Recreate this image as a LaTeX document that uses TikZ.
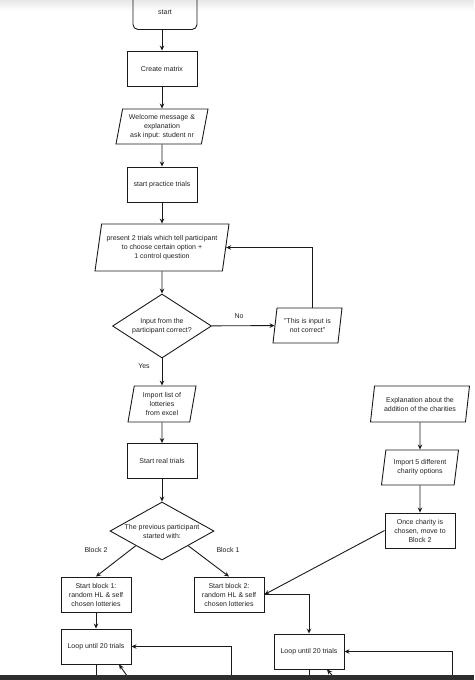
\documentclass[tikz,border=0pt]{standalone}
\usepackage{fontspec}
\setmainfont{Liberation Sans}
\usetikzlibrary{arrows.meta,positioning,shapes.geometric}

\definecolor{linecol}{HTML}{1A1A1A}
\definecolor{textcol}{HTML}{222222}
\definecolor{barcol}{HTML}{2E2E2E}

\tikzset{
  box/.style={draw=linecol, line width=0.9pt, minimum width=70pt, minimum height=35pt,
    align=center, inner sep=1pt, font=\fontsize{7}{9}\selectfont, text=textcol},
  startbox/.style={box, rounded corners=5pt, minimum width=64pt},
  iobox/.style={box, trapezium, trapezium left angle=76, trapezium right angle=104,
    trapezium stretches body},
  choice/.style={box, diamond, inner sep=0pt},
  flow/.style={draw=linecol, line width=0.9pt, -{Stealth[length=5pt,width=4.5pt]}},
  plain/.style={draw=linecol, line width=0.9pt},
  lbl/.style={font=\fontsize{7}{9}\selectfont, text=textcol},
}

\begin{document}
\begin{tikzpicture}[x=1pt,y=-1pt]
  \useasboundingbox (0,0) rectangle (474,680);
  \clip (0,0) rectangle (474,680);
  \shade[top color=gray!18, bottom color=white] (0,0) rectangle (474,11);

  % main column
  \node[startbox] (start) at (165,12) {start};
  \node[box] (matrix) at (162,68.5) {Create matrix};
  \node[iobox, minimum width=92pt] (welcome) at (162,126.5) {Welcome message \&\\explanation\\ask input: student nr};
  \node[box] (practice) at (162,184.5) {start practice trials};
  \node[iobox, minimum width=134pt, minimum height=47pt] (present) at (162,247.5) {present 2 trials which tell participant\\to choose certain option +\\1 control question};
  \node[choice, aspect=1.6, minimum width=99pt, minimum height=64pt] (correct) at (162,326) {Input from the\\participant correct?};
  \node[iobox, minimum width=69pt] (wrong) at (307.5,325.5) {"This is input is\\not correct"};
  \node[iobox, minimum width=68pt, minimum height=36pt] (lotteries) at (162,404) {Import list of\\lotteries\\from excel};
  \node[box] (real) at (162,461) {Start real trials};
  \node[choice, aspect=1.8, minimum width=104pt, minimum height=58pt] (previous) at (162,531) {The previous participant\\started with:};

  % blocks
  \node[box] (block1) at (96,594.5) {Start block 1:\\random HL \& self\\chosen lotteries};
  \node[box] (block2) at (229,594.5) {Start block 2:\\random HL \& self\\chosen lotteries};
  \node[box] (loop1) at (96,646.5) {Loop until 20 trials};
  \node[box] (loop2) at (309,651.5) {Loop until 20 trials};

  % charity column
  \node[iobox, minimum width=99pt, minimum height=36pt] (explain) at (420,404) {Explanation about the\\addition of the charities};
  \node[iobox, minimum width=77pt] (charity) at (420,467.5) {Import 5 different\\charity options};
  \node[box] (chosen) at (420,530.5) {Once charity is\\chosen, move to\\Block 2};

  % labels
  \node[lbl] (no) at (239,316) {No};
  \node[lbl] (yes) at (144,366) {Yes};
  \node[lbl] (b2) at (96,550) {Block 2};
  \node[lbl] (b1) at (228,550) {Block 1};

  % loose ends below the page
  \coordinate (back1) at (231,690);
  \coordinate (down1) at (96,690);
  \coordinate (up1) at (137,690);
  \coordinate (back2) at (452,690);
  \coordinate (down2) at (309,690);
  \coordinate (up2) at (345,690);

  \draw[flow] (start.south -| matrix.north) -- (matrix.north);
  \draw[flow] (matrix) -- (welcome);
  \draw[flow] (welcome) -- (practice);
  \draw[flow] (practice) -- (present);
  \draw[flow] (present) -- (correct);
  \draw[flow] (correct) -- (wrong);
  \draw[flow] ([xshift=4.5pt]wrong.north) |- (present.east);
  \draw[flow] (correct) -- (lotteries);
  \draw[flow] (lotteries) -- (real);
  \draw[flow] (real) -- (previous);
  \draw[flow] (previous.south west) -- (block1.north);
  \draw[flow] (previous.south east) -- (block2.north);
  \draw[flow] (block1) -- (loop1);
  \draw[flow] (back1) |- (loop1.east);
  \draw[plain] (loop1) -- (down1);
  \draw[flow] (up1) -- ([xshift=23pt]loop1.south);

  \draw[flow] (explain) -- (charity);
  \draw[flow] (charity) -- (chosen);
  \draw[flow] (chosen.west) -- (block2.east);
  \draw[flow] (block2.east) -| (loop2.north);
  \draw[flow] (back2) |- (loop2.east);
  \draw[plain] (loop2) -- (down2);
  \draw[flow] (up2) -- ([xshift=18pt]loop2.south);

  \fill[barcol] (0,675) rectangle (474,680);
\end{tikzpicture}
\end{document}
